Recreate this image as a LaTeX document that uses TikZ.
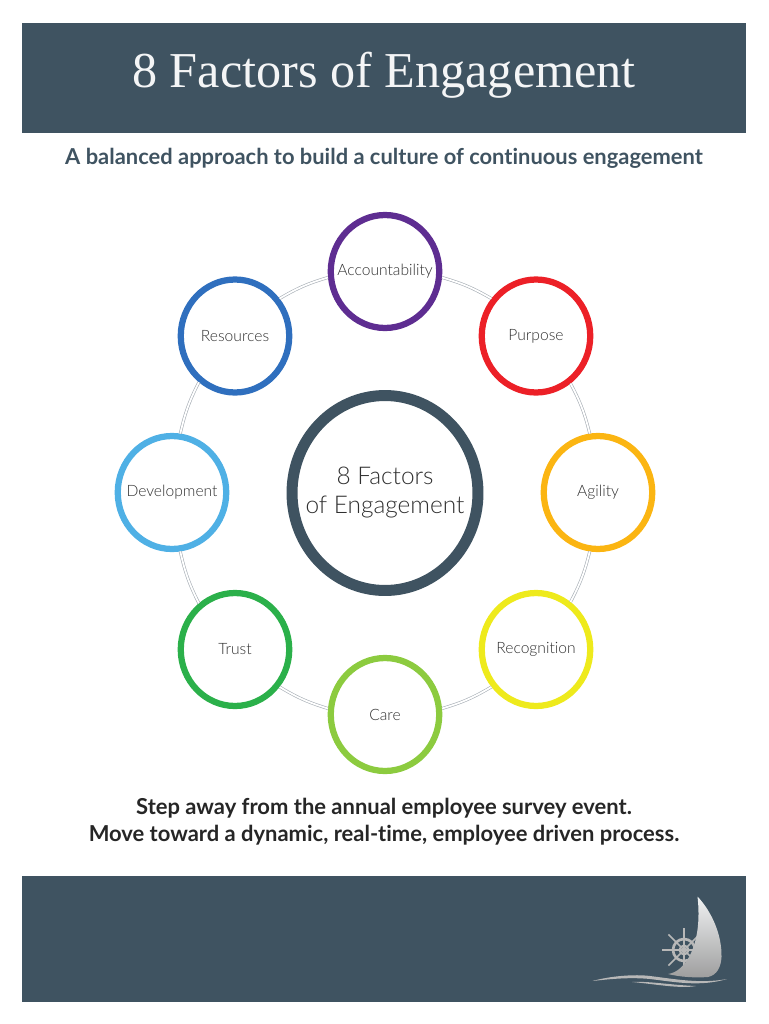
\documentclass[tikz,border=0pt]{standalone}
\usepackage{fontspec}
\usetikzlibrary{shapes.geometric}
\setmainfont{Lato}[Ligatures=CommonOff]
\newfontfamily\titlefont{Liberation Serif}
\newfontfamily\thinfont{Lato Light}[Ligatures=CommonOff]
\definecolor{slate}{HTML}{3F5361}
\definecolor{ringgray}{HTML}{A8AFB6}
\definecolor{labelgray}{HTML}{303030}
\definecolor{cAcc}{HTML}{5E2D91}
\definecolor{cPur}{HTML}{EC2027}
\definecolor{cAgi}{HTML}{FBB512}
\definecolor{cRec}{HTML}{EEEA1C}
\definecolor{cCar}{HTML}{8CCB3F}
\definecolor{cTru}{HTML}{2BB04A}
\definecolor{cDev}{HTML}{4FB0E5}
\definecolor{cRes}{HTML}{2F6FBE}
\definecolor{boat}{HTML}{B8B8B8}
\begin{document}
\begin{tikzpicture}[x=0.02cm,y=-0.02cm]
    \tikzstyle{band}=[fill=slate,draw=none]
    \tikzstyle{factor}=[ellipse,draw,fill=white,line width=0.125cm,minimum width=2.17cm,minimum height=2.26cm,inner sep=0pt,
        text=labelgray,font=\thinfont\fontsize{8.9}{11}\selectfont]
    \tikzstyle{ringline}=[draw=ringgray,line width=0.35pt,double=white,double distance=1pt]
    \tikzstyle{boatline}=[draw=boat,line width=0.9pt]

    \useasboundingbox (0, 0) rectangle (768, 1024);

    \fill[band] (22, 23) rectangle (746, 133);
    \fill[band] (22, 876) rectangle (746, 1002);

    \node[text=white!94!slate,font=\titlefont\fontsize{28.6}{32}\selectfont] (title) at (384, 75.5) {8 Factors of Engagement};
    \node[text=slate,font=\bfseries\fontsize{12.47}{15}\selectfont] (subtitle) at (384, 158.5) {A balanced approach to build a culture of continuous engagement};

    \foreach \name/\x/\y/\col/\txt in {
        acc/385/271.5/cAcc/Accountability, pur/536/336/cPur/Purpose,
        agi/598/492.5/cAgi/Agility, rec/536/649.5/cRec/Recognition,
        car/385/714.5/cCar/Care, tru/235/649.5/cTru/Trust,
        dev/172/492.5/cDev/Development, res/235/336/cRes/Resources} {
        \node[factor,draw=\col] (\name) at (\x, \y) {\makebox[0pt]{\txt}};
    }

    \foreach \a/\aout/\b/\bin in {
        acc/-6/pur/140, pur/-54/agi/98, agi/262/rec/54, rec/220/car/6,
        car/174/tru/-40, tru/128/dev/-82, dev/82/res/232, res/40/acc/186} {
        \draw[ringline] (\a.\aout) to[bend left=7] (\b.\bin);
    }

    \node[ellipse,draw=slate,line width=0.22cm,minimum width=3.72cm,minimum height=3.9cm,inner sep=0pt,
        text=labelgray,font=\thinfont\fontsize{13.9}{16.5}\selectfont] (center) at (385, 493)
        {\makebox[0pt]{\begin{tabular}{@{}c@{}}8 Factors\\of Engagement\end{tabular}}};

    \node[text=black!85,align=center,font=\bfseries\fontsize{12.5}{15.4}\selectfont] (closing) at (384, 821.5)
        {Step away from the annual employee survey event.\\Move toward a dynamic, real-time, employee driven process.};

    % logo
    \begin{scope}
        \draw[boat,line width=1.5pt] (684, 950) circle (11);
        \draw[boat,line width=1.1pt] (684, 950) circle (4.5);
        \fill[boat] (684, 950) circle (2);
        \foreach \ang in {0, 45, ..., 315} {
            \draw[boatline] (684, 950) -- +(\ang:22);
        }
        \shade[top color=white!92!slate,bottom color=black!38!white]
            (697.5, 896.5) .. controls (712, 912) and (722, 935) .. (721.5, 957)
            .. controls (721, 967) and (717, 975) .. (708, 977)
            .. controls (695, 978) and (680, 977) .. (668, 974)
            .. controls (685, 972) and (703, 945) .. (697.5, 896.5) -- cycle;
        \fill[boat] (592.5, 981) .. controls (610, 976) and (635, 974) .. (650, 976)
            .. controls (675, 979) and (700, 984) .. (727, 979)
            .. controls (700, 987) and (675, 982) .. (650, 979)
            .. controls (630, 977) and (610, 979) .. (592.5, 981) -- cycle;
        \fill[boat] (632, 982) .. controls (650, 981) and (670, 985) .. (696, 986)
            .. controls (680, 989) and (655, 984) .. (632, 982) -- cycle;
    \end{scope}
\end{tikzpicture}
\end{document}
